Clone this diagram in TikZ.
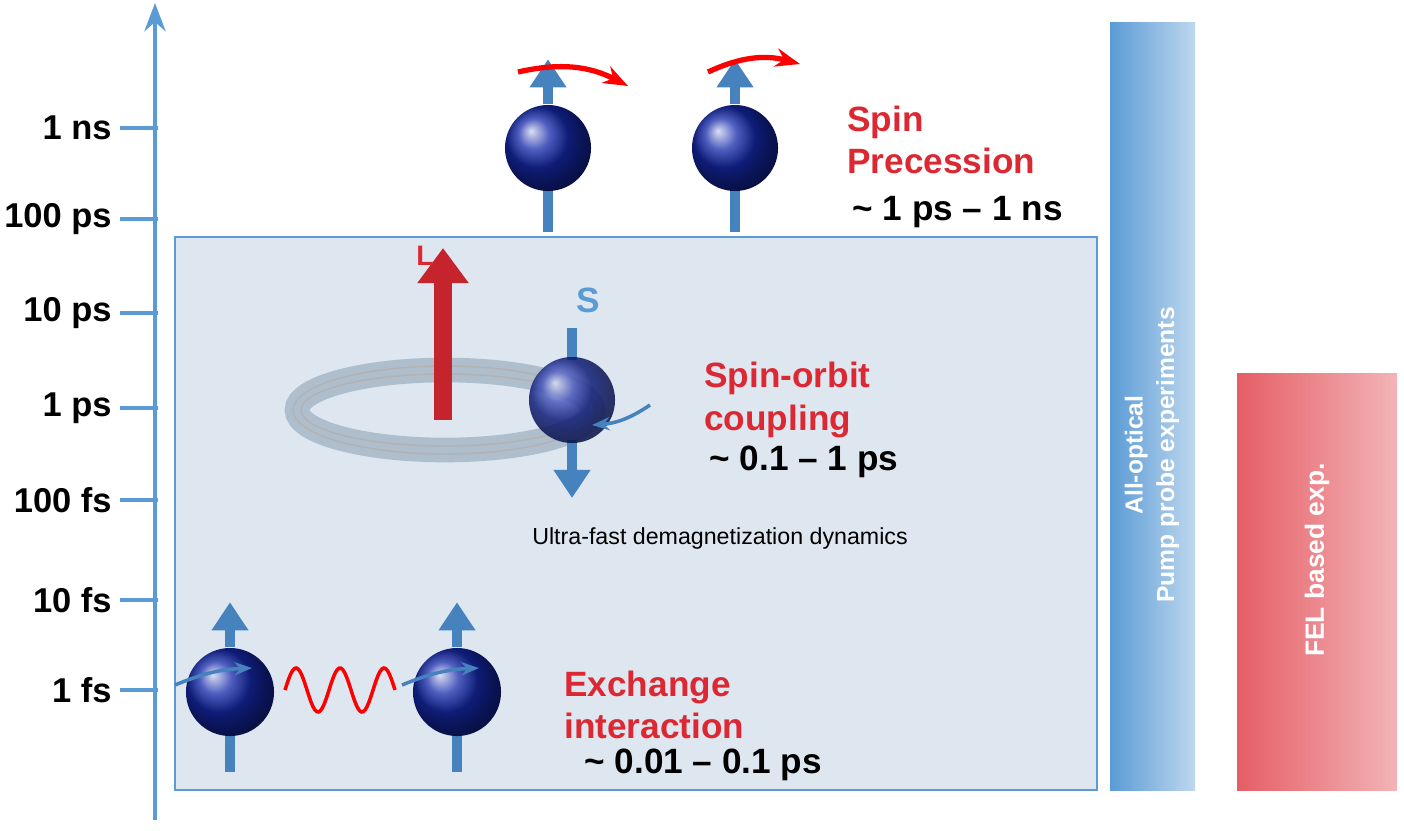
\documentclass[tikz,border=0pt]{standalone}
\usepackage{fontspec}
\setmainfont{Liberation Sans}
\usetikzlibrary{arrows.meta, positioning, shapes.geometric}
\definecolor{axisblue}{RGB}{91,155,213}
\definecolor{boxfill}{RGB}{222,230,240}
\definecolor{labred}{RGB}{220,40,50}
\definecolor{ballblue}{RGB}{20,40,170}
\definecolor{spinblue}{RGB}{70,130,190}
\definecolor{ringgray}{RGB}{175,190,205}
\tikzset{
  tick/.style={axisblue, line width=1.2pt},
  scale label/.style={anchor=east, font=\fontsize{9.8}{12}\selectfont\bfseries},
  red label/.style={labred, font=\fontsize{10}{12}\selectfont\bfseries, align=left},
  time label/.style={font=\fontsize{10}{12}\selectfont\bfseries},
  spin ball/.style={circle, minimum size=#1, inner sep=0pt,
    ball color=ballblue, draw=none},
  spin arrow/.style={spinblue, line width=2.6pt, -{Triangle[length=8pt,width=10pt]}},
  spin stub/.style={spinblue, line width=2.6pt},
  turn arrow/.style={red, line width=1.5pt, -{Stealth[length=7pt]}}
}
\begin{document}
\begin{tikzpicture}[x=0.01cm, y=-0.01cm]
  \useasboundingbox (0,0) rectangle (1404,830);

  % time axis
  \draw[axisblue, line width=1.2pt, -{Stealth[length=8pt]}] (155,820) -- (155,3);
  \foreach \yy/\txt in {128/1 ns, 219/100 ps, 313/10 ps, 408/1 ps,
                        500/100 fs, 600/10 fs, 690/1 fs} {
    \draw[tick] (120,\yy) -- (158,\yy);
    \node[scale label] at (124,\yy) {\txt};
  }

  % demagnetization box
  \fill[boxfill] (175,237) rectangle (1097,790);
  \draw[axisblue, line width=0.6pt] (175,237) rectangle (1097,790);

  % experiment bars
  \shade[left color=axisblue, right color=axisblue!40] (1110,22) rectangle (1195,790);
  \node[white, rotate=90, align=center, font=\fontsize{7}{9}\selectfont\bfseries]
    (optical) at (1152,455) {All-optical\\Pump probe experiments};
  \shade[left color=labred!75, right color=labred!35] (1237,373) rectangle (1397,790);
  \node[white, rotate=90, font=\fontsize{7.5}{9}\selectfont\bfseries]
    (fel) at (1317,560) {FEL based exp.};

  % spin precession
  \foreach \n/\xx in {p1/548, p2/735} {
    \draw[spin stub] (\xx,185) -- (\xx,232);
    \node[spin ball=0.86cm] (\n) at (\xx,148) {};
    \draw[spin arrow] (\n.north) -- ++(0,-45);
  }
  \draw[turn arrow] (518,72) to[bend left=20] (628,86);
  \draw[turn arrow] (708,72) to[bend left=20] (800,64);
  \node[red label, anchor=west] (prec) at (835,140) {Spin\\Precession};
  \node[time label, anchor=west] (precT) at (840,212) {\textasciitilde\ 1 ps -- 1 ns};

  % spin-orbit coupling
  \draw[ringgray, line width=7pt] (445,410) ellipse (148 and 40);
  \draw[gray!60, line width=0.4pt] (445,410) ellipse (152 and 44);
  \draw[gray!60, line width=0.4pt] (445,410) ellipse (144 and 36);
  \draw[labred!90!black, line width=5pt, -{Triangle[length=10pt,width=14pt]}]
    (443,420) -- (443,248);
  \node[labred, font=\fontsize{8}{9}\selectfont\bfseries] (L) at (425,256) {L};
  \draw[spin stub] (572,360) -- (572,328);
  \draw[spin arrow] (572,440) -- (572,498);
  \node[spin ball=0.86cm, opacity=0.85] (so) at (572,400) {};
  \draw[spinblue, line width=1pt, -{Stealth[length=5pt]}] (650,405) to[bend left=15] (592,425);
  \node[axisblue, font=\fontsize{10}{12}\selectfont\bfseries] (S) at (588,300) {S};
  \node[red label, anchor=west] (sol) at (692,400) {Spin-orbit\\coupling};
  \node[time label, anchor=west] (solT) at (697,462) {\textasciitilde\ 0.1 -- 1 ps};
  \node[font=\fontsize{6.6}{8}\selectfont] (ultra) at (720,538) {Ultra-fast demagnetization dynamics};

  % exchange interaction
  \foreach \n/\xx in {e1/230, e2/457} {
    \draw[spin stub] (\xx,730) -- (\xx,772);
    \node[spin ball=0.88cm] (\n) at (\xx,692) {};
    \draw[spin arrow] (\n.north) -- ++(0,-45);
    \draw[spinblue, line width=1pt, -{Stealth[length=5pt]}]
      (\xx-55,685) to[bend left=10] (\xx+22,668);
  }
  \draw[red, line width=1pt, domain=0:110, samples=60]
    plot ({285+\x}, {690-22*sin(\x*8.18)});
  \node[red label, anchor=west] (exch) at (552,705) {Exchange\\interaction};
  \node[time label, anchor=west] (exchT) at (572,765) {\textasciitilde\ 0.01 -- 0.1 ps};
\end{tikzpicture}
\end{document}
